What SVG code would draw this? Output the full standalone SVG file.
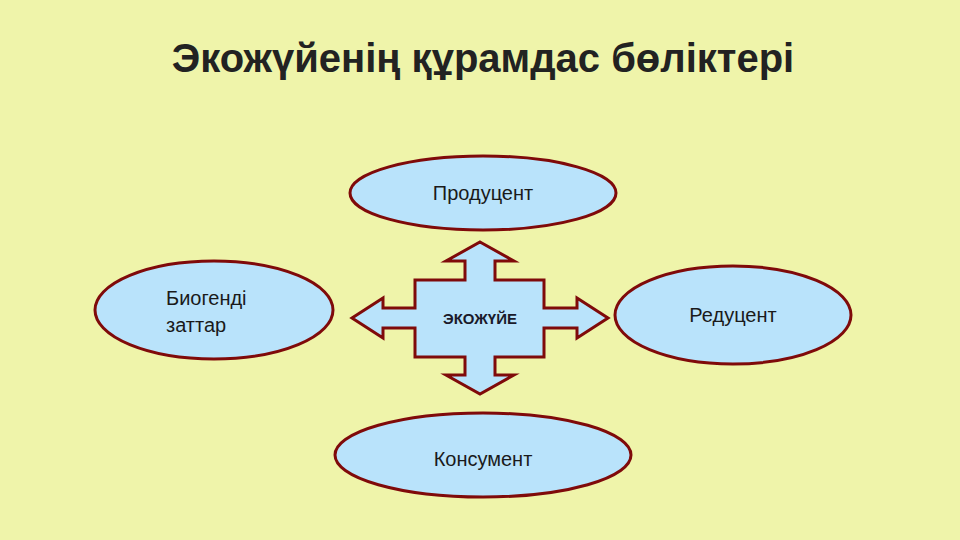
<svg xmlns="http://www.w3.org/2000/svg" width="960" height="540" viewBox="0 0 960 540">
<style>
.n{fill:#b9e3fb;stroke:#7f0a0a;stroke-width:3}
.t{font-family:"Liberation Sans",Arial,sans-serif;font-size:20px;fill:#1a1a1a}
</style>
<rect width="960" height="540" fill="#eff4aa"/>
<text x="483" y="72" text-anchor="middle" font-family="Liberation Sans,Arial,sans-serif" font-size="40" font-weight="bold" fill="#222">Экожүйенің құрамдас бөліктері</text>
<g id="connectors"></g>
<g id="center">
<path class="n" d="M480,242 L514,261 L495,261 L495,280 L544,280 L544,308 L577,308 L577,298 L608,318 L577,338 L577,328 L544,328 L544,357 L495,357 L495,375 L514,375 L480,394 L446,375 L465,375 L465,357 L415,357 L415,328 L383,328 L383,338 L352,318 L383,298 L383,308 L415,308 L415,280 L465,280 L465,261 L446,261 Z"/>
<text x="480" y="324" text-anchor="middle" font-family="Liberation Sans,Arial,sans-serif" font-size="15" font-weight="bold" fill="#1a1a2a">ЭКОЖҮЙЕ</text>
</g>
<g id="producer"><ellipse class="n" cx="483" cy="193" rx="133" ry="37"/><text class="t" x="483" y="200" text-anchor="middle">Продуцент</text></g>
<g id="biogenic"><ellipse class="n" cx="214" cy="310" rx="119" ry="49"/><text class="t" x="166" y="305">Биогенді</text><text class="t" x="166" y="332">заттар</text></g>
<g id="reducer"><ellipse class="n" cx="733" cy="315" rx="118" ry="49"/><text class="t" x="733" y="322" text-anchor="middle">Редуцент</text></g>
<g id="consumer"><ellipse class="n" cx="483" cy="455" rx="148" ry="42"/><text class="t" x="483" y="466" text-anchor="middle">Консумент</text></g>
</svg>
